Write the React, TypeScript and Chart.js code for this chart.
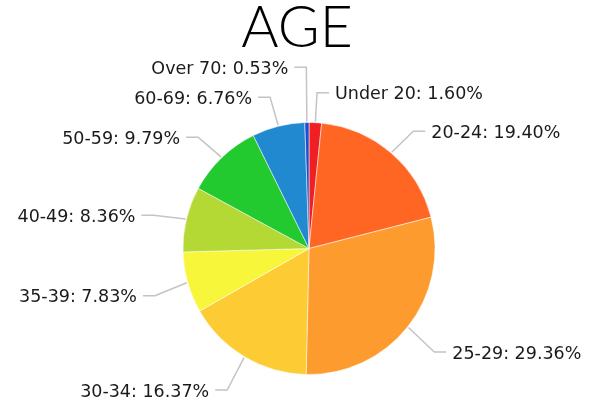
import React, { useEffect, useRef } from 'react';
import { Chart, registerables } from 'chart.js';

Chart.register(...registerables);

const TITLE = 'AGE';
const LABELS = ['Under 20', '20-24', '25-29', '30-34', '35-39', '40-49', '50-59', '60-69', 'Over 70'];
const VALUES = [1.6, 19.4, 29.36, 16.37, 7.83, 8.36, 9.79, 6.76, 0.53];
const COLORS = ['#f01f24', '#ff6624', '#fe9b2e', '#fdcc34', '#f8f63a', '#b4d935', '#22c92f', '#2189d0', '#1c4fd0'];

// draws "label: value%" outside each slice with a crooked leader line
const outsideLabels = {
    id: 'outsideLabels',
    afterDraw(chart: any) {
        const ctx = chart.ctx;
        const arcs = chart.getDatasetMeta(0).data;
        const gap = 30;
        const items: any[] = arcs.map((arc: any, i: number) => {
            const mid = (arc.startAngle + arc.endAngle) / 2;
            const r = arc.outerRadius;
            const er = r + 34;
            return {
                i,
                value: VALUES[i],
                ax: arc.x + Math.cos(mid) * (r + 1),
                ay: arc.y + Math.sin(mid) * (r + 1),
                ex: arc.x + Math.cos(mid) * er,
                ey: arc.y + Math.sin(mid) * er + 4,
                right: Math.cos(mid) >= 0,
            };
        });

        // keep big slices in place, move small ones out of the way
        [true, false].forEach((side) => {
            const placed: any[] = [];
            items
                .filter((it) => it.right === side)
                .sort((a, b) => b.value - a.value)
                .forEach((it) => {
                    let y = it.ey;
                    for (let k = 0; k < 5; k++) {
                        placed.forEach((p) => {
                            if (Math.abs(y - p.ey) < gap) {
                                y = it.ey < p.ey ? p.ey - gap : p.ey + gap;
                            }
                        });
                    }
                    it.ey = y;
                    placed.push(it);
                });
        });

        ctx.save();
        ctx.lineWidth = 1.5;
        ctx.strokeStyle = '#c4c4c4';
        ctx.fillStyle = '#1a1a1a';
        ctx.font = '17.5px "DejaVu Sans", Verdana, sans-serif';
        ctx.textBaseline = 'middle';
        items.forEach((it) => {
            const dir = it.right ? 1 : -1;
            ctx.beginPath();
            ctx.moveTo(it.ax, it.ay);
            ctx.lineTo(it.ex, it.ey);
            ctx.lineTo(it.ex + dir * 12, it.ey);
            ctx.stroke();
            ctx.textAlign = it.right ? 'left' : 'right';
            ctx.fillText(LABELS[it.i] + ': ' + VALUES[it.i].toFixed(2) + '%', it.ex + dir * 18, it.ey + 2);
        });

        // title
        ctx.fillStyle = '#000';
        ctx.font = '300 57px Lato, "Open Sans", sans-serif';
        ctx.textAlign = 'center';
        ctx.textBaseline = 'alphabetic';
        ctx.fillText(TITLE, 297, 47);
        ctx.restore();
    },
};

const App: React.FC = () => {
    const chartRef = useRef<HTMLCanvasElement>(null);
    const chartInstanceRef = useRef<Chart | null>(null);

    useEffect(() => {
        document.body.style.margin = '0';
        if (chartRef.current) {
            const ctx = chartRef.current.getContext('2d');
            if (ctx) {
                if (chartInstanceRef.current) {
                    chartInstanceRef.current.destroy();
                }
                chartInstanceRef.current = new Chart(ctx, {
                    type: 'pie',
                    data: {
                        labels: LABELS,
                        datasets: [
                            {
                                data: VALUES,
                                backgroundColor: COLORS,
                                borderColor: 'rgba(255,255,255,0.5)',
                                borderWidth: 1,
                            },
                        ],
                    },
                    options: {
                        responsive: true,
                        maintainAspectRatio: false,
                        animation: false,
                        layout: {
                            padding: { top: 122, bottom: 26, left: 182, right: 164 },
                        },
                        plugins: {
                            legend: { display: false },
                            tooltip: { enabled: false },
                        },
                    },
                    plugins: [outsideLabels],
                });
            }
        }
        return () => {
            if (chartInstanceRef.current) {
                chartInstanceRef.current.destroy();
                chartInstanceRef.current = null;
            }
        };
    }, []);

    return (
        <div style={{ width: 600, height: 401, position: 'relative' }}>
            <canvas ref={chartRef}></canvas>
        </div>
    );
};

export default App;
